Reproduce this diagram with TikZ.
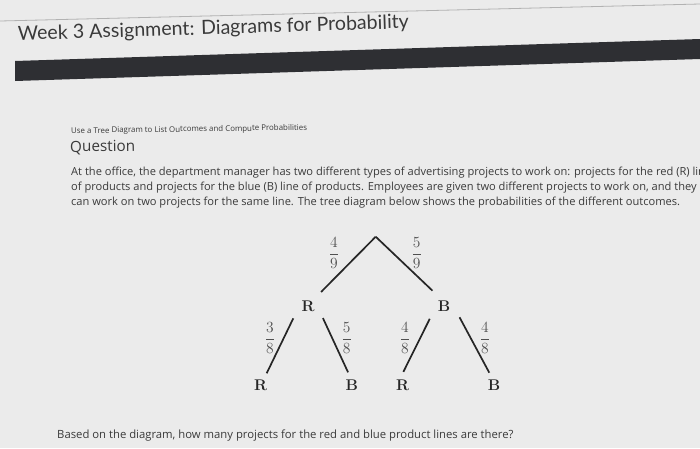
\RequirePackage{fix-cm}
\documentclass[tikz,border=0pt]{standalone}
\usepackage{fontspec}
\newfontfamily\lato{Lato}
\newfontfamily\osans{Open Sans}
\definecolor{bg}{HTML}{EBEBEB}
\definecolor{barc}{HTML}{2E2F33}
\definecolor{txt}{HTML}{3A3A3A}
\definecolor{treec}{HTML}{262626}
\definecolor{fracc}{HTML}{505050}
\begin{document}
\begin{tikzpicture}[x=1pt,y=-1pt,
  branch/.style={draw=treec, line width=1.7pt},
  midnode/.style={circle, minimum size=38pt, inner sep=0pt, text=treec,
    font=\fontsize{15.5}{18}\selectfont\bfseries},
  leafnode/.style={circle, minimum size=26pt, inner sep=0pt, text=treec,
    font=\fontsize{15.5}{18}\selectfont\bfseries},
  prob/.style={inner sep=0pt, text=fracc, font=\fontsize{15.5}{18}\selectfont},
  para/.style={anchor=base west, inner sep=0pt, text=txt,
    font=\osans\fontsize{11.1}{12}\selectfont},
]
\fill[bg] (0,0) rectangle (700,448);
\useasboundingbox (0,0) rectangle (700,448);
\clip (0,0) rectangle (700,448);

% header
\draw[black!30, line width=0.8pt] (0,21) -- (700,4);
\node[anchor=base west, inner sep=0pt, rotate=1.8, text=txt,
  font=\lato\fontsize{19.6}{24}\selectfont] (title) at (18,40.5)
  {Week 3 Assignment: Diagrams for Probability};
\fill[barc] (15,61) -- (700,39) -- (700,59) -- (15,81) -- cycle;

% question text
\node[anchor=base west, inner sep=0pt, text=txt, rotate=0.8,
  font=\osans\fontsize{7.9}{9}\selectfont] (sub) at (71,133.5)
  {Use a Tree Diagram to List Outcomes and Compute Probabilities};
\node[anchor=base west, inner sep=0pt, text=txt, rotate=0.8,
  font=\osans\fontsize{15.3}{18}\selectfont] (q) at (70,152) {Question};
\node[para] (l1) at (71,175) {At the office, the department manager has two different types of advertising projects to work on: projects for the red (R) line};
\node[para] (l2) at (71,190.5) {of products and projects for the blue (B) line of products. Employees are given two different projects to work on, and they};
\node[para] (l3) at (71,205.5) {can work on two projects for the same line. The tree diagram below shows the probabilities of the different outcomes.};

% tree
\coordinate (root) at (375.7,236.7);
\node[midnode] (r1) at (308,306) {R};
\node[midnode] (b1) at (444,306) {B};
\node[leafnode] (rr) at (260.7,385) {R};
\node[leafnode] (rb) at (351.7,385) {B};
\node[leafnode] (br) at (402.7,385) {R};
\node[leafnode] (bb) at (494,385) {B};

\draw[branch] (root) -- (r1.47.6);
\draw[branch] (root) -- (b1.127);
\draw[branch] (r1.220) -- (rr.63);
\draw[branch] (r1.321) -- (rb.106);
\draw[branch] (b1.222) -- (br.87);
\draw[branch] (b1.324) -- (bb.111);

\node[prob] (p1) at (334,253) {$\displaystyle\frac{4}{9}$};
\node[prob] (p2) at (416.7,253) {$\displaystyle\frac{5}{9}$};
\node[prob] (p3) at (270,338.3) {$\displaystyle\frac{3}{8}$};
\node[prob] (p4) at (346.7,338.3) {$\displaystyle\frac{5}{8}$};
\node[prob] (p5) at (405,338.3) {$\displaystyle\frac{4}{8}$};
\node[prob] (p6) at (485,338.3) {$\displaystyle\frac{4}{8}$};

% bottom question
\node[anchor=base west, inner sep=0pt, text=txt,
  font=\osans\fontsize{11.3}{12}\selectfont] (ask) at (57,438)
  {Based on the diagram, how many projects for the red and blue product lines are there?};
\end{tikzpicture}
\end{document}
